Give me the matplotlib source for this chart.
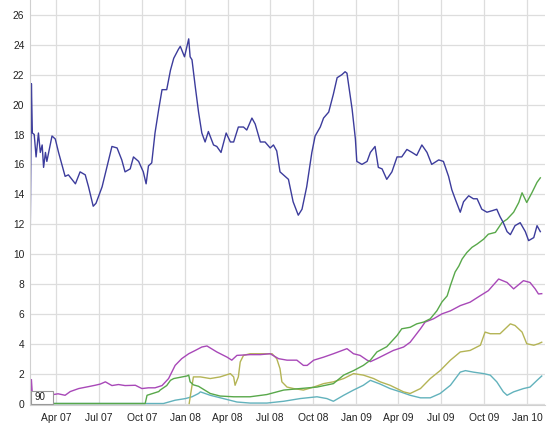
import pandas as pd
import matplotlib.pyplot as plt
from matplotlib.patches import Rectangle

plt.rcParams['font.family'] = ['Liberation Sans', 'DejaVu Sans']

start = pd.Timestamp("2007-04-01")

# day offsets from 2007-04-01 and values
blue_days = [-56, -53, -51, -47, -43, -38, -34, -30, -27, -23, -20, -9, -2, 5, 19, 26, 41, 51,
             62, 69, 79, 85, 98, 112, 119, 130, 140, 147, 158, 165, 176, 186, 192, 197, 204,
             211, 219, 226, 236, 244, 251, 261, 265, 274, 283, 286, 290, 297, 304, 311, 318,
             325, 336, 343, 352, 363, 372, 379, 389, 400, 407, 418, 425, 436, 446, 457, 464,
             471, 478, 489, 496, 506, 517, 525, 535, 546, 553, 564, 571, 582, 592, 600, 610,
             617, 621, 632, 639, 642, 653, 664, 671, 681, 688, 696, 706, 717, 728, 738, 749,
             760, 770, 781, 792, 802, 817, 827, 838, 845, 852, 863, 870, 881, 891, 899, 909,
             920, 931, 941, 948, 955, 963, 970, 980, 991, 1002, 1009, 1020, 1027, 1034]
blue_vals = [9.0, 21.4, 18.1, 18.0, 16.5, 18.1, 16.8, 17.3, 15.8, 16.8, 16.2, 17.9, 17.7, 16.8,
             15.2, 15.3, 14.7, 15.5, 15.3, 14.5, 13.2, 13.4, 14.5, 16.3, 17.2, 17.1, 16.3, 15.5,
             15.7, 16.5, 16.2, 15.5, 14.7, 15.9, 16.1, 18.1, 19.7, 21.0, 21.0, 22.3, 23.1, 23.7,
             23.9, 23.2, 24.4, 23.2, 23.0, 21.2, 19.5, 18.1, 17.5, 18.2, 17.3, 17.2, 16.8, 18.1,
             17.5, 17.5, 18.5, 18.5, 18.3, 19.1, 18.7, 17.5, 17.5, 17.1, 17.3, 16.9, 15.5, 15.2,
             15.0, 13.5, 12.6, 13.0, 14.5, 16.8, 17.9, 18.5, 19.1, 19.5, 20.7, 21.8, 22.0, 22.2,
             22.1, 19.7, 17.7, 16.2, 16.0, 16.2, 16.8, 17.2, 15.8, 15.7, 15.0, 15.5, 16.5, 16.5,
             17.0, 16.8, 16.6, 17.3, 16.8, 16.0, 16.3, 16.2, 15.2, 14.3, 13.7, 12.8, 13.5, 13.9,
             13.7, 13.7, 13.0, 12.8, 12.9, 13.0, 12.5, 12.1, 11.5, 11.3, 11.9, 12.1, 11.5, 10.9,
             11.1, 11.9, 11.5]

green_days = [-56, 190, 194, 219, 222, 236, 244, 251, 279, 283, 286, 293, 304, 329, 350, 379,
              414, 450, 486, 521, 557, 592, 614, 635, 656, 671, 685, 706, 728, 738, 756, 770,
              785, 799, 813, 824, 835, 842, 852, 860, 867, 877, 888, 899, 913, 923, 938, 952,
              963, 977, 988, 995, 1005, 1016, 1027, 1034]
green_vals = [0.0, 0.0, 0.55, 0.8, 0.9, 1.2, 1.55, 1.67, 1.84, 1.9, 1.45, 1.25, 1.15, 0.67,
              0.5, 0.45, 0.45, 0.6, 0.9, 1.0, 1.1, 1.33, 1.9, 2.2, 2.55, 2.9, 3.45, 3.8, 4.55,
              5.0, 5.1, 5.33, 5.45, 5.67, 6.2, 6.8, 7.2, 7.9, 8.8, 9.2, 9.67, 10.1, 10.45,
              10.67, 11.0, 11.33, 11.45, 12.1, 12.33, 12.8, 13.45, 14.1, 13.45, 14.1, 14.8, 15.1]

purple_days = [-56, -53, -51, -6, 4, 19, 30, 48, 69, 83, 94, 105, 119, 133, 147, 169, 183, 197,
               211, 226, 240, 254, 268, 283, 297, 311, 322, 343, 365, 375, 386, 414, 436, 457,
               475, 493, 514, 528, 536, 550, 571, 592, 621, 635, 649, 664, 671, 685, 699, 720,
               742, 756, 778, 788, 806, 824, 842, 863, 884, 906, 923, 945, 963, 977, 998, 1012,
               1023, 1030, 1037]
purple_vals = [0.2, 1.6, 0.6, 0.6, 0.65, 0.55, 0.8, 1.0, 1.13, 1.22, 1.3, 1.45, 1.2, 1.27,
               1.2, 1.22, 1.0, 1.05, 1.05, 1.2, 1.67, 2.55, 3.0, 3.33, 3.55, 3.78, 3.85, 3.45,
               3.1, 2.9, 3.22, 3.27, 3.27, 3.33, 3.0, 2.9, 2.9, 2.55, 2.55, 2.9, 3.1, 3.33,
               3.67, 3.33, 3.22, 2.9, 2.8, 3.0, 3.22, 3.55, 3.78, 4.1, 5.0, 5.45, 5.67, 6.0,
               6.2, 6.55, 6.78, 7.22, 7.55, 8.33, 8.1, 7.67, 8.22, 8.1, 7.67, 7.33, 7.35]

olive_days = [284, 288, 293, 308, 329, 350, 372, 379, 382, 389, 393, 400, 414, 436, 461, 471,
              478, 482, 493, 507, 528, 550, 571, 592, 614, 635, 656, 678, 692, 713, 742, 756,
              778, 799, 820, 842, 863, 884, 906, 916, 927, 948, 970, 980, 995, 1005, 1020,
              1030, 1037]
olive_vals = [0.0, 0.8, 1.78, 1.78, 1.67, 1.78, 2.0, 1.78, 1.22, 1.78, 2.78, 3.22, 3.33, 3.33,
              3.33, 3.0, 2.33, 1.45, 1.1, 1.0, 0.9, 1.1, 1.33, 1.45, 1.67, 2.0, 1.9, 1.67,
              1.45, 1.22, 0.78, 0.67, 1.0, 1.67, 2.2, 2.9, 3.45, 3.55, 3.9, 4.78, 4.67, 4.67,
              5.33, 5.22, 4.78, 4.0, 3.9, 4.0, 4.1]

teal_days = [-56, 229, 254, 276, 290, 304, 308, 329, 357, 386, 414, 450, 486, 521, 557, 578,
             592, 614, 635, 656, 671, 692, 713, 735, 756, 778, 799, 820, 842, 863, 874, 891,
             913, 927, 941, 955, 963, 977, 998, 1012, 1027, 1037]
teal_vals = [0.0, 0.0, 0.22, 0.33, 0.45, 0.67, 0.78, 0.55, 0.33, 0.1, 0.03, 0.03, 0.15, 0.33,
             0.45, 0.33, 0.15, 0.55, 0.9, 1.22, 1.55, 1.3, 1.0, 0.78, 0.55, 0.38, 0.38, 0.67,
             1.22, 2.1, 2.2, 2.1, 2.0, 1.9, 1.45, 0.78, 0.55, 0.78, 1.0, 1.1, 1.55, 1.84]

tick_dates = ["2007-04-01", "2007-07-01", "2007-10-01", "2008-01-01", "2008-04-01",
              "2008-07-01", "2008-10-01", "2009-01-01", "2009-04-01", "2009-07-01",
              "2009-10-01", "2010-01-01"]
tick_labels = ["Apr 07", "Jul 07", "Oct 07", "Jan 08", "Apr 08", "Jul 08", "Oct 08",
               "Jan 09", "Apr 09", "Jul 09", "Oct 09", "Jan 10"]


def to_dates(days):
    return start + pd.to_timedelta(days, unit="D")


fig = plt.figure(figsize=(5.5, 4.33), dpi=100)
ax = fig.add_axes([30 / 550, 28 / 433, 515 / 550, 405 / 433])

ax.plot(to_dates(teal_days), teal_vals, color="#62b2bc", linewidth=1.0)
ax.plot(to_dates(olive_days), olive_vals, color="#b4b455", linewidth=1.0)
ax.plot(to_dates(purple_days), purple_vals, color="#a848b8", linewidth=1.0)
ax.plot(to_dates(green_days), green_vals, color="#58a84a", linewidth=1.0)
ax.plot(to_dates(blue_days), blue_vals, color="#3c3c9c", linewidth=1.0)

ax.set_xlim(start + pd.Timedelta(days=-56), start + pd.Timedelta(days=1044))
ax.set_ylim(-0.1, 27)
ax.set_yticks(range(0, 27, 2))
ax.set_xticks(pd.to_datetime(tick_dates))
ax.set_xticklabels(tick_labels)
ax.tick_params(length=0, labelsize=7.4, colors="#222222")
ax.tick_params(axis="y", pad=4)
ax.tick_params(axis="x", pad=6)
ax.grid(True, color="#dddddd", linewidth=0.9)
ax.set_axisbelow(True)
for side in ["top", "right"]:
    ax.spines[side].set_visible(False)
for side in ["left", "bottom"]:
    ax.spines[side].set_color("#d0d0d0")

# small value box in the lower left corner
fig.patches.append(Rectangle((31 / 550, 29 / 433), 22 / 550, 13 / 433,
                             transform=fig.transFigure, facecolor="white",
                             edgecolor="#999999", linewidth=0.8, zorder=5))
fig.text(35 / 550, 35.5 / 433, "90", fontsize=7, va="center", ha="left", zorder=6,
         color="#222222")

fig.savefig("out.png", dpi=100)
